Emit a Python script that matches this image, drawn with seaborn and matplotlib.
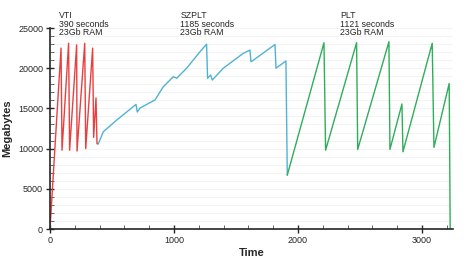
import matplotlib
matplotlib.use("Agg")
import matplotlib.pyplot as plt
import seaborn as sns
import pandas as pd
from matplotlib.ticker import MultipleLocator

# memory traces (time in s, memory in MB)
vti_t = [0, 40, 89, 97, 150, 158, 215, 218, 280, 288, 344, 352, 371, 379, 390]
vti_mb = [0, 10200, 22500, 9800, 23100, 9800, 22900, 9700, 23100, 10000, 22500, 11400, 16300, 10600, 10600]

szplt_t = [390, 430, 538, 694, 704, 726, 847, 914, 995, 1022, 1102, 1210, 1263, 1271, 1296, 1309,
           1398, 1559, 1613, 1621, 1640, 1815, 1823, 1903, 1914]
szplt_mb = [10600, 12100, 13550, 15500, 14550, 15050, 16050, 17700, 18950, 18750, 20000, 22050, 23000,
            18750, 19150, 18530, 20000, 21850, 22260, 20800, 21000, 22950, 20000, 20900, 6700]

plt_t = [1914, 2210, 2223, 2473, 2482, 2734, 2742, 2839, 2847, 3083, 3097, 3220, 3228]
plt_mb = [6700, 23170, 9800, 23170, 9900, 23300, 9900, 15550, 9600, 23100, 10150, 18100, 0]

labels = ["VTI\n390 seconds\n23Gb RAM", "SZPLT\n1185 seconds\n23Gb RAM", "PLT\n1121 seconds\n23Gb RAM"]
label_x = [70, 1050, 2340]

sns.set_style("ticks")
plt.rcParams["font.family"] = ["Liberation Sans", "DejaVu Sans"]

fig = plt.figure(figsize=(4.74, 2.58), dpi=100)
ax = fig.add_axes([0.1055, 0.1124, 0.85, 0.779])

ax.yaxis.set_minor_locator(MultipleLocator(1000))
for y in range(1000, 25001, 1000):
    ax.axhline(y, color="#f3f3f3", lw=0.6, zorder=0)

sns.lineplot(x=vti_t, y=vti_mb, ax=ax, color="#e8403f", lw=1.0, sort=False)
sns.lineplot(x=szplt_t, y=szplt_mb, ax=ax, color="#4fb3d4", lw=1.0, sort=False)
sns.lineplot(x=plt_t, y=plt_mb, ax=ax, color="#2fae5a", lw=1.0, sort=False)

for x, s in zip(label_x, labels):
    ax.text(x, 27100, s, fontsize=6.3, va="top", ha="left", linespacing=0.95, clip_on=False)

ax.set_xlim(0, 3250)
ax.set_ylim(0, 25000)
ax.set_xticks([0, 1000, 2000, 3000])
ax.set_yticks([0, 5000, 10000, 15000, 20000, 25000])
ax.xaxis.set_minor_locator(MultipleLocator(200))
ax.tick_params(axis="both", which="major", direction="inout", length=6, width=1, labelsize=6.5, pad=2)
ax.tick_params(axis="both", which="minor", direction="in", length=3, width=0.5)
ax.set_xlabel("Time", fontsize=8, fontweight="bold", labelpad=2)
ax.set_ylabel("Megabytes", fontsize=8, fontweight="bold", labelpad=4)
for s in ["top", "right"]:
    ax.spines[s].set_visible(False)
for s in ["left", "bottom"]:
    ax.spines[s].set_linewidth(1.2)

fig.savefig("out.png", dpi=100)
